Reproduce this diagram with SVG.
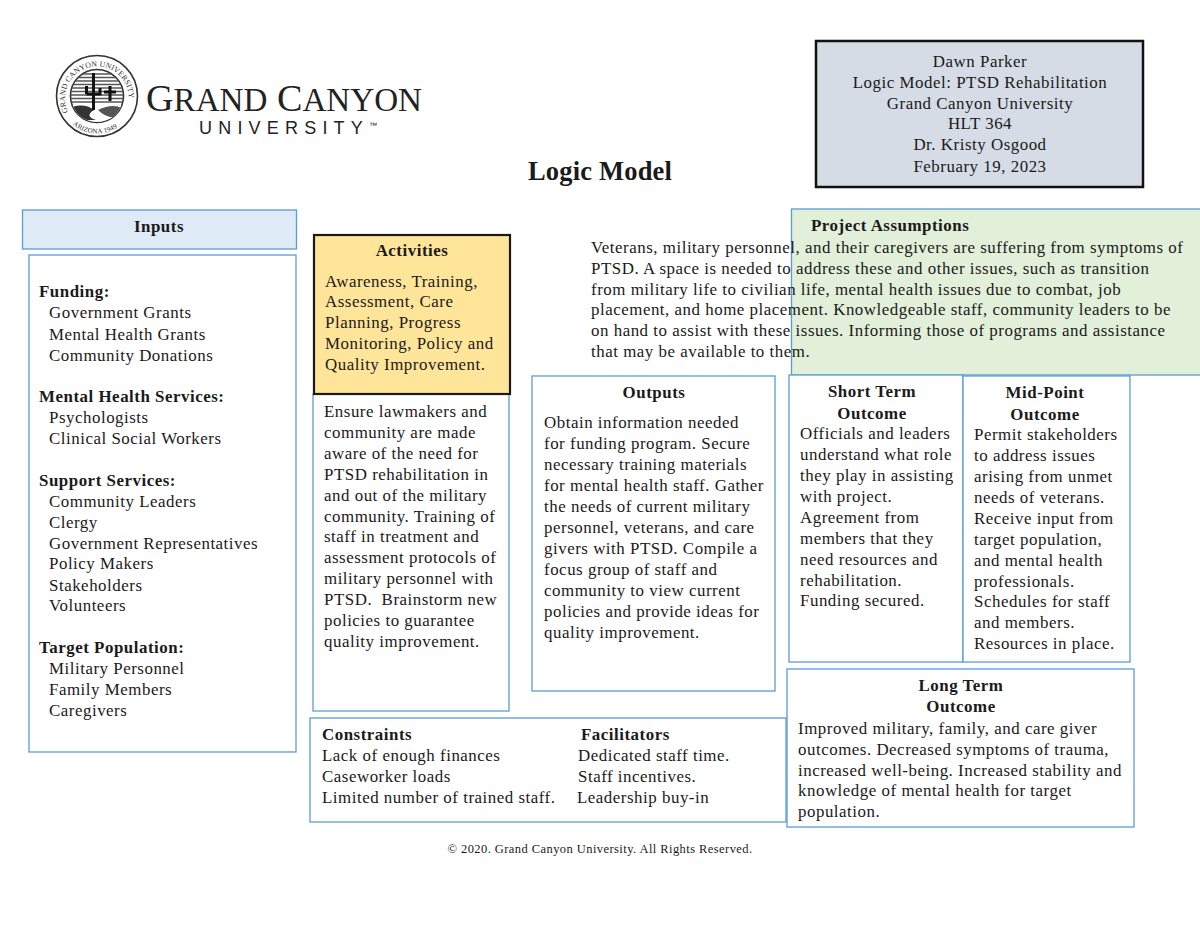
<svg xmlns="http://www.w3.org/2000/svg" width="1200" height="927" viewBox="0 0 1200 927">
<style>
text{font-family:"Liberation Serif","Times New Roman",serif;font-size:16.9px;letter-spacing:.52px;fill:#1a1a1a}
.b{font-weight:bold}
.m{text-anchor:middle}
.box{fill:#fff;stroke:#5b9bd5;stroke-width:1.3}
.logo{font-size:38px;letter-spacing:0;fill:#222}
.seal{font-size:7.800px;letter-spacing:.1px;fill:#333}
</style>
<defs>
<path id="sealTop" d="M68 112A32 32 0 1 1 126 112"/>
<path id="sealBot" d="M69 121A37.500 37.500 0 0 0 125 121"/>
<clipPath id="sealClip"><circle cx="97" cy="96" r="26"/></clipPath>
</defs>
<rect width="1200" height="927" fill="#fff"/>
<g id="logo">
<circle cx="97" cy="96" r="40.500" fill="#fff" stroke="#333" stroke-width="1.6"/>
<circle cx="97" cy="96" r="26.500" fill="#fff" stroke="#333" stroke-width="1.6"/>
<g clip-path="url(#sealClip)">
<path d="M70 74H124M70 77.500H124M70 81H124M70 84.500H124M70 88H124M70 91.500H124M70 95H124M70 98.500H124M70 102H124" stroke="#555" stroke-width="1.6"/>
<path d="M70 106Q90 100 124 106V124H70Z" fill="#fff"/>
<path d="M72 107Q85 103 94 110Q84 116 96 120H78Q72 114 72 107Z" fill="#333"/>
<path d="M98 110Q112 103 122 108L119 116Q108 120 98 110Z" fill="#555"/>
</g>
<path d="M93.500 110V73M86.500 94V86M86.500 94H100V88M110 86V101M104 92H116" fill="none" stroke="#111" stroke-width="3"/>
<text class="seal"><textPath href="#sealTop">GRAND CANYON UNIVERSITY</textPath></text>
<text class="seal" style="font-size:7px"><textPath href="#sealBot" startOffset="5">ARIZONA 1949</textPath></text>
<text class="logo" x="146" y="111" textLength="276" lengthAdjust="spacingAndGlyphs">G<tspan style="font-size:33px;letter-spacing:0">RAND</tspan> C<tspan style="font-size:33px;letter-spacing:0">ANYON</tspan></text>
<text x="199" y="134" style="font-family:'Liberation Sans',sans-serif;font-size:18px;letter-spacing:6.2px;fill:#222">UNIVERSITY<tspan dy="-6" style="font-size:8px;letter-spacing:0">™</tspan></text>
</g>
<g id="header">
<rect x="816" y="41" width="327" height="146" fill="#d6dce5" stroke="#111" stroke-width="2.5"/>
<text class="m" x="980" y="67">Dawn Parker</text>
<text class="m" x="980" y="88">Logic Model: PTSD Rehabilitation</text>
<text class="m" x="980" y="109">Grand Canyon University</text>
<text class="m" x="980" y="129">HLT 364</text>
<text class="m" x="980" y="150">Dr. Kristy Osgood</text>
<text class="m" x="980" y="172">February 19, 2023</text>
</g>
<text id="title" class="b m" x="600" y="180" style="font-size:26.5px;letter-spacing:.2px">Logic Model</text>
<g id="inputs">
<rect x="22.500" y="210" width="274" height="39" fill="#deeaf6" stroke="#5b9bd5" stroke-width="1.3"/>
<text class="b m" x="159" y="232">Inputs</text>
</g>
<g id="resources">
<rect class="box" x="29" y="255" width="267" height="497"/>
<text class="b" x="39" y="297">Funding:</text>
<text x="49" y="318">Government Grants</text>
<text x="49" y="340">Mental Health Grants</text>
<text x="49" y="361">Community Donations</text>
<text class="b" x="39" y="402">Mental Health Services:</text>
<text x="49" y="423">Psychologists</text>
<text x="49" y="444">Clinical Social Workers</text>
<text class="b" x="39" y="486">Support Services:</text>
<text x="49" y="507">Community Leaders</text>
<text x="49" y="528">Clergy</text>
<text x="49" y="549">Government Representatives</text>
<text x="49" y="569">Policy Makers</text>
<text x="49" y="591">Stakeholders</text>
<text x="49" y="611">Volunteers</text>
<text class="b" x="39" y="653">Target Population:</text>
<text x="49" y="674">Military Personnel</text>
<text x="49" y="695">Family Members</text>
<text x="49" y="716">Caregivers</text>
</g>
<g id="activity-detail">
<rect class="box" x="313" y="394" width="196" height="317"/>
<text x="324" y="417">Ensure lawmakers and</text>
<text x="324" y="438">community are made</text>
<text x="324" y="459">aware of the need for</text>
<text x="324" y="480">PTSD rehabilitation in</text>
<text x="324" y="501">and out of the military</text>
<text x="324" y="522">community. Training of</text>
<text x="324" y="542">staff in treatment and</text>
<text x="324" y="563">assessment protocols of</text>
<text x="324" y="584">military personnel with</text>
<text x="324" y="605" style="white-space:pre">PTSD.  Brainstorm new</text>
<text x="324" y="626">policies to guarantee</text>
<text x="324" y="647">quality improvement.</text>
</g>
<g id="activities">
<rect x="314" y="235" width="196" height="159" fill="#ffe599" stroke="#1a1a1a" stroke-width="2.2"/>
<text class="b m" x="412" y="256">Activities</text>
<text x="325" y="287">Awareness, Training,</text>
<text x="325" y="307">Assessment, Care</text>
<text x="325" y="328">Planning, Progress</text>
<text x="325" y="349">Monitoring, Policy and</text>
<text x="325" y="370">Quality Improvement.</text>
</g>
<g id="outputs">
<rect class="box" x="532" y="376" width="243" height="315"/>
<text class="b m" x="654" y="398">Outputs</text>
<text x="544" y="428">Obtain information needed</text>
<text x="544" y="449">for funding program. Secure</text>
<text x="544" y="470">necessary training materials</text>
<text x="544" y="491">for mental health staff. Gather</text>
<text x="544" y="512">the needs of current military</text>
<text x="544" y="533">personnel, veterans, and care</text>
<text x="544" y="554">givers with PTSD. Compile a</text>
<text x="544" y="575">focus group of staff and</text>
<text x="544" y="596">community to view current</text>
<text x="544" y="617">policies and provide ideas for</text>
<text x="544" y="638">quality improvement.</text>
</g>
<g id="assumptions">
<rect x="791.500" y="209" width="420" height="166" fill="#e2efd9" stroke="#5b9bd5" stroke-width="1.3"/>
<text class="b" x="811" y="231">Project Assumptions</text>
<text x="591" y="253">Veterans, military personnel, and their caregivers are suffering from symptoms of</text>
<text x="591" y="274">PTSD. A space is needed to address these and other issues, such as transition</text>
<text x="591" y="295">from military life to civilian life, mental health issues due to combat, job</text>
<text x="591" y="315">placement, and home placement. Knowledgeable staff, community leaders to be</text>
<text x="591" y="336">on hand to assist with these issues. Informing those of programs and assistance</text>
<text x="591" y="357">that may be available to them.</text>
</g>
<g id="short-term">
<rect class="box" x="789" y="375" width="174" height="287"/>
<text class="b m" x="872" y="397">Short Term</text>
<text class="b m" x="872" y="419">Outcome</text>
<text x="800" y="439">Officials and leaders</text>
<text x="800" y="460">understand what role</text>
<text x="800" y="481">they play in assisting</text>
<text x="800" y="502">with project.</text>
<text x="800" y="523">Agreement from</text>
<text x="800" y="544">members that they</text>
<text x="800" y="565">need resources and</text>
<text x="800" y="586">rehabilitation.</text>
<text x="800" y="606">Funding secured.</text>
</g>
<g id="mid-point">
<rect class="box" x="963" y="376" width="167" height="286"/>
<text class="b m" x="1045" y="398">Mid-Point</text>
<text class="b m" x="1045" y="420">Outcome</text>
<text x="974" y="440">Permit stakeholders</text>
<text x="974" y="461">to address issues</text>
<text x="974" y="482">arising from unmet</text>
<text x="974" y="503">needs of veterans.</text>
<text x="974" y="524">Receive input from</text>
<text x="974" y="545">target population,</text>
<text x="974" y="566">and mental health</text>
<text x="974" y="587">professionals.</text>
<text x="974" y="607">Schedules for staff</text>
<text x="974" y="628">and members.</text>
<text x="974" y="649">Resources in place.</text>
</g>
<g id="long-term">
<rect class="box" x="787" y="669" width="347" height="158"/>
<text class="b m" x="961" y="691">Long Term</text>
<text class="b m" x="961" y="712">Outcome</text>
<text x="798" y="734">Improved military, family, and care giver</text>
<text x="798" y="755">outcomes. Decreased symptoms of trauma,</text>
<text x="798" y="776">increased well-being. Increased stability and</text>
<text x="798" y="796">knowledge of mental health for target</text>
<text x="798" y="817">population.</text>
</g>
<g id="constraints">
<rect class="box" x="310" y="718" width="476" height="104"/>
<text class="b" x="322" y="740">Constraints</text>
<text class="b" x="581" y="740">Facilitators</text>
<text x="322" y="761">Lack of enough finances</text>
<text x="578" y="761">Dedicated staff time.</text>
<text x="322" y="782">Caseworker loads</text>
<text x="578" y="782">Staff incentives.</text>
<text x="322" y="803">Limited number of trained staff.</text>
<text x="577" y="803">Leadership buy-in</text>
</g>
<text id="copyright" class="m" x="600" y="853" style="font-size:12.500px;letter-spacing:.43px">© 2020. Grand Canyon University. All Rights Reserved.</text>
<g id="connectors"></g>
</svg>
